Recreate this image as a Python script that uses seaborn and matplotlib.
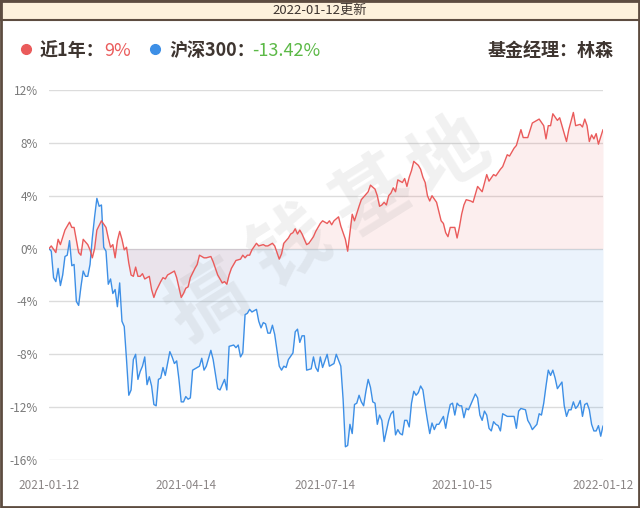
import matplotlib
matplotlib.use('Agg')
import matplotlib.pyplot as plt
import seaborn as sns
import pandas as pd
from matplotlib.patches import Rectangle
from matplotlib.lines import Line2D

sns.set_style('white')
plt.rcParams['font.family'] = ['Noto Sans CJK SC', 'DejaVu Sans']

# trading-day index (0 = 2021-01-12, 243 = 2022-01-12) and cumulative return in %
fund_day = [0, 1, 3, 4, 5, 7, 9, 10, 11, 13, 14, 15, 17, 18, 19, 20, 21, 23, 25, 26,
            27, 28, 29, 30, 31, 32, 33, 34, 35, 36, 37, 38, 39, 40, 41, 42, 44, 45, 46, 47,
            49, 50, 51, 52, 54, 55, 56, 58, 59, 60, 61, 62, 64, 65, 66, 68, 69, 71, 72, 74,
            76, 77, 78, 79, 80, 82, 84, 85, 86, 87, 88, 89, 91, 92, 94, 95, 96, 98, 99, 101,
            102, 103, 105, 106, 107, 108, 109, 110, 111, 112, 113, 114, 116, 117, 118, 119, 120, 122, 123, 124,
            125, 127, 128, 130, 131, 132, 133, 134, 136, 137, 139, 140, 141, 143, 144, 145, 146, 147, 148, 149,
            150, 151, 152, 153, 155, 156, 157, 158, 159, 160, 162, 163, 164, 165, 166, 167, 168, 170, 171, 172,
            173, 174, 175, 176, 177, 178, 179, 180, 181, 182, 183, 185, 186, 188, 190, 192, 193, 195, 196, 198,
            199, 201, 202, 204, 205, 207, 208, 210, 212, 215, 217, 218, 219, 220, 221, 223, 224, 227, 228, 230,
            231, 233, 234, 235, 236, 237, 238, 239, 240, 241, 243]
fund_ret = [0.0, 0.2, -0.3, 0.7, 0.3, 1.4, 2.0, 1.6, 1.6, -0.3, -0.5, 0.7, 0.3, -0.1, -0.7, 0.0, 1.4, 2.1, 1.6, 0.8,
            0.1, 0.3, -0.7, 0.6, 1.3, 0.7, -0.1, 0.1, -1.1, -2.0, -2.1, -1.4, -2.1, -2.1, -1.9, -2.3, -2.1, -3.1, -3.7, -3.2,
            -2.5, -2.2, -2.3, -2.0, -1.8, -1.7, -2.2, -3.7, -3.4, -3.0, -2.9, -2.2, -1.5, -1.2, -0.5, -0.7, -0.7, -0.6, -1.0, -2.0,
            -2.6, -2.5, -2.7, -2.0, -1.5, -0.9, -0.8, -0.5, -0.7, -0.5, -0.5, -0.1, 0.4, 0.2, 0.3, 0.2, 0.2, 0.4, 0.2, -0.8,
            -0.4, 0.4, 0.8, 1.1, 1.2, 1.5, 1.1, 1.4, 1.1, 0.7, 0.3, 0.4, 0.9, 1.3, 1.6, 1.9, 2.1, 1.9, 2.1, 1.8,
            2.1, 2.4, 1.7, 0.7, -0.2, 1.2, 2.6, 2.1, 3.2, 3.7, 4.1, 4.3, 4.8, 4.5, 4.0, 3.2, 3.3, 3.5, 3.3, 4.0,
            4.2, 4.6, 4.3, 5.2, 5.0, 5.3, 4.7, 5.4, 5.9, 6.6, 6.3, 6.0, 5.4, 5.0, 4.0, 3.6, 4.0, 3.5, 2.8, 2.1,
            1.9, 1.2, 0.9, 1.6, 1.6, 1.6, 0.8, 1.6, 2.6, 3.3, 3.7, 3.6, 3.5, 4.7, 4.3, 5.6, 5.1, 5.6, 5.5, 6.0,
            6.2, 7.1, 7.0, 7.6, 7.8, 9.0, 8.4, 8.4, 9.5, 9.8, 9.3, 8.3, 9.3, 9.3, 10.2, 9.7, 9.9, 8.1, 9.0, 10.3,
            9.3, 9.4, 9.2, 9.8, 9.3, 8.1, 8.6, 8.3, 8.7, 7.9, 9.0]

hs300_day = [0, 1, 2, 3, 4, 5, 6, 7, 8, 9, 10, 11, 12, 13, 14, 15, 16, 17, 18, 19,
             20, 21, 22, 23, 24, 25, 26, 27, 28, 29, 30, 31, 32, 33, 34, 35, 36, 37, 38, 39,
             40, 41, 42, 43, 44, 45, 46, 47, 48, 49, 50, 51, 52, 53, 54, 55, 56, 57, 58, 59,
             60, 61, 62, 63, 65, 66, 67, 68, 69, 71, 72, 74, 75, 77, 78, 79, 81, 82, 83, 84,
             85, 86, 87, 88, 89, 91, 92, 93, 94, 95, 96, 97, 98, 99, 101, 102, 103, 104, 105, 107,
             108, 109, 110, 111, 112, 113, 115, 116, 117, 118, 119, 120, 122, 123, 125, 126, 128, 129, 130, 131,
             132, 133, 134, 135, 136, 137, 138, 139, 140, 141, 142, 143, 144, 145, 146, 147, 149, 150, 151, 152,
             153, 154, 155, 156, 157, 158, 159, 160, 161, 162, 163, 164, 165, 166, 167, 168, 169, 170, 171, 172,
             173, 174, 175, 176, 177, 178, 179, 180, 181, 182, 183, 184, 185, 186, 187, 188, 189, 190, 191, 192,
             193, 194, 195, 196, 197, 198, 199, 201, 202, 204, 205, 206, 207, 209, 210, 211, 212, 214, 215, 216,
             217, 218, 219, 220, 221, 222, 223, 225, 226, 227, 228, 229, 230, 231, 232, 233, 234, 235, 236, 237,
             238, 239, 240, 241, 242, 243]
hs300_ret = [0.0, -0.2, -2.2, -2.5, -1.5, -2.8, -2.0, -0.6, -0.5, 0.6, -1.3, -1.2, -4.0, -4.3, -2.9, -1.7, -2.1, -2.1, -1.2, 0.8,
             2.4, 3.8, 3.2, 3.3, 0.1, -0.2, -2.7, -2.3, -3.4, -3.1, -4.4, -2.6, -5.5, -5.9, -8.4, -11.1, -10.7, -8.4, -8.0, -9.9,
             -9.3, -8.9, -8.2, -10.3, -9.7, -10.4, -11.8, -11.9, -9.9, -9.8, -9.0, -9.6, -8.7, -7.8, -8.2, -8.7, -8.5, -9.9, -11.6, -11.6,
             -11.2, -11.4, -11.3, -9.2, -9.0, -8.9, -8.3, -9.2, -8.9, -7.7, -8.4, -10.6, -10.7, -9.9, -10.7, -7.4, -7.3, -7.5, -7.3, -8.2,
             -7.9, -5.0, -4.9, -4.6, -4.8, -4.6, -5.5, -6.0, -5.6, -5.7, -6.4, -6.4, -5.8, -6.5, -8.9, -9.2, -8.9, -9.0, -8.4, -7.9,
             -6.3, -6.1, -7.1, -6.6, -6.6, -9.2, -9.1, -8.2, -9.0, -9.3, -8.2, -9.0, -8.0, -8.9, -8.7, -8.0, -8.9, -11.4, -15.0, -14.9,
             -13.3, -14.0, -11.8, -11.7, -11.1, -11.6, -11.9, -10.8, -9.9, -10.5, -11.6, -11.7, -13.3, -12.6, -13.0, -14.6, -13.0, -12.5, -12.3, -14.1,
             -13.7, -14.0, -14.1, -13.0, -13.0, -13.5, -11.7, -10.8, -11.1, -10.9, -10.4, -10.7, -11.9, -13.0, -14.0, -13.2, -13.7, -13.3, -13.3, -13.0,
             -12.7, -13.6, -12.6, -11.8, -11.7, -12.6, -11.7, -11.9, -11.9, -12.8, -12.1, -12.2, -11.8, -11.4, -11.0, -11.3, -12.6, -13.0, -12.3, -12.6,
             -13.6, -13.8, -13.1, -13.3, -13.4, -13.8, -12.5, -12.7, -12.7, -12.7, -13.6, -12.3, -12.1, -12.2, -13.0, -13.3, -13.7, -13.3, -12.5, -12.6,
             -11.7, -10.4, -9.2, -9.6, -9.2, -9.8, -10.6, -10.1, -11.9, -12.7, -12.2, -12.2, -11.6, -12.1, -11.9, -11.5, -12.7, -11.8, -11.7, -12.2,
             -13.3, -13.8, -13.8, -13.4, -14.2, -13.42]

tick_days = [0, 60, 121, 181, 243]
tick_dates = ['2021-01-12', '2021-04-14', '2021-07-14', '2021-10-15', '2022-01-12']
y_ticks = [12, 8, 4, 0, -4, -8, -12, -16]

red = '#ea5b5b'
blue = '#3d8fe6'
green = '#5cb947'
dark = '#3e3530'
brown = '#5d4c40'

fund = pd.DataFrame({'day': fund_day, 'ret': fund_ret})
hs300 = pd.DataFrame({'day': hs300_day, 'ret': hs300_ret})

fig = plt.figure(figsize=(6.4, 5.08), dpi=100)
ax = fig.add_axes([49 / 640, 1 - 460 / 508, 554 / 640, 370 / 508])

ax.fill_between(hs300['day'], hs300['ret'], 0, color=blue, alpha=0.1, lw=0, zorder=1)
ax.fill_between(fund['day'], fund['ret'], 0, color=red, alpha=0.1, lw=0, zorder=1.1)
sns.lineplot(data=hs300, x='day', y='ret', color=blue, linewidth=1, ax=ax, zorder=3)
sns.lineplot(data=fund, x='day', y='ret', color=red, linewidth=1, ax=ax, zorder=3.1)

ax.set_xlim(0, 243)
ax.set_ylim(-16, 12)
ax.set_yticks(y_ticks)
ax.set_yticklabels([f'{v}%' for v in y_ticks])
ax.set_xticks(tick_days)
ax.set_xticklabels(tick_dates)
ax.set_xlabel('')
ax.set_ylabel('')
for v in y_ticks:
    ax.axhline(v, color='#dcdcdc', lw=1, zorder=0.5)
for s in ax.spines.values():
    s.set_visible(False)
ax.tick_params(axis='y', length=0, pad=8, labelsize=8.5, labelcolor='#7a7a7a')
ax.tick_params(axis='x', length=0, pad=14, labelsize=8.5, labelcolor='#8a8585')

# watermark
for ch, (px, py) in zip('搞钱基地', [(208, 302), (290, 248), (372, 198), (449, 158)]):
    ax.text(px / 640, 1 - py / 508, ch, transform=fig.transFigure, fontsize=56,
            fontweight='bold', color='#9a9a9a', alpha=0.14, rotation=32,
            ha='center', va='center', zorder=2)

# header band and frame
fig.patches.append(Rectangle((0, 1 - 20 / 508), 1, 20 / 508, transform=fig.transFigure,
                             facecolor='#fdf1dc', edgecolor=brown, lw=1.5, zorder=0))
fig.patches.append(Rectangle((0.001, 0.002), 0.998, 0.997, transform=fig.transFigure,
                             facecolor='none', edgecolor=brown, lw=2, zorder=5))
fig.text(0.5, 1 - 10 / 508, '2022-01-12更新', ha='center', va='center', fontsize=9.5, color=dark)

# legend row
ly = 1 - 51 / 508
fig.add_artist(Line2D([26 / 640], [ly + 0.003], marker='o', markersize=7, color=red,
                      transform=fig.transFigure))
fig.add_artist(Line2D([155 / 640], [ly + 0.003], marker='o', markersize=7, color=blue,
                      transform=fig.transFigure))
fig.text(40 / 640, ly, '近1年：', ha='left', va='center', fontsize=13, fontweight='bold', color=dark)
fig.text(104 / 640, ly, '9%', ha='left', va='center', fontsize=13, color=red)
fig.text(169 / 640, ly, '沪深300：', ha='left', va='center', fontsize=13, fontweight='bold', color=dark)
fig.text(252 / 640, ly, '-13.42%', ha='left', va='center', fontsize=13, color=green)
fig.text(614 / 640, ly, '基金经理：林森', ha='right', va='center', fontsize=13, fontweight='bold', color=dark)

fig.savefig('out.png', dpi=100)
